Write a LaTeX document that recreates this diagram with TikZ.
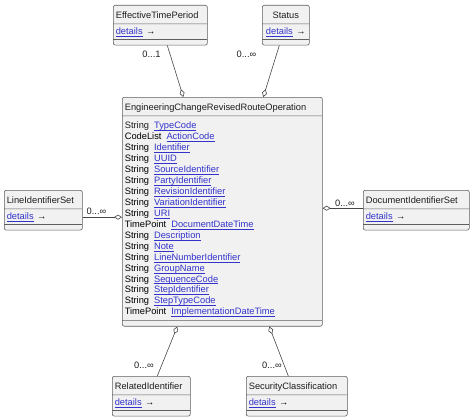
\documentclass[tikz,border=0pt]{standalone}
\usepackage{fontspec}
\setmainfont{Liberation Sans}
\usetikzlibrary{shapes.multipart,arrows.meta,calc}

\definecolor{boxfill}{RGB}{241,241,241}
\definecolor{boxline}{RGB}{95,95,95}
\definecolor{wireline}{RGB}{70,70,70}
\definecolor{linkblue}{RGB}{51,51,204}
\definecolor{typegray}{RGB}{30,30,30}

\newcommand\umlfont{\fontsize{9.3}{10.95}\selectfont}
\newcommand\lnk[1]{{\color{linkblue}\setbox0\hbox{#1}\rlap{\rule[-1.8pt]{\wd0}{0.35pt}}\box0}}
\newcommand\attr[2]{#1\hspace{5pt}\lnk{#2}}
\newcommand\titlestrut{\rule[-3.5pt]{0pt}{14pt}}
\newcommand\detailstrut{\rule[-3pt]{0pt}{11pt}}
\newcommand\detailslink{\detailstrut\lnk{details}\hspace{3.5pt}→}
\newcommand\emptystrut{\rule{0pt}{1pt}}

\tikzset{
  umlclass/.style={rectangle split, rectangle split parts=3, draw=boxline, fill=boxfill,
    line width=0.6pt, rounded corners=2pt, inner xsep=2.5pt, inner ysep=2pt,
    align=left, font=\umlfont, text=typegray, anchor=north west},
  agg/.style={draw=wireline, line width=0.6pt, -{Diamond[open,length=8pt,width=5pt]}},
  mult/.style={font=\umlfont, text=typegray, inner sep=0pt}
}

\begin{document}
\begin{tikzpicture}[x=1pt,y=-1pt]
\useasboundingbox (0,0) rectangle (474,420);

% the class and its attributes
\node[umlclass, text width=195pt] (main) at (122,97) {\titlestrut EngineeringChangeRevisedRouteOperation
  \nodepart{two}\rule{0pt}{10.5pt}\attr{String}{TypeCode}\\
  \attr{CodeList}{ActionCode}\\
  \attr{String}{Identifier}\\
  \attr{String}{UUID}\\
  \attr{String}{SourceIdentifier}\\
  \attr{String}{PartyIdentifier}\\
  \attr{String}{RevisionIdentifier}\\
  \attr{String}{VariationIdentifier}\\
  \attr{String}{URI}\\
  \attr{TimePoint}{DocumentDateTime}\\
  \attr{String}{Description}\\
  \attr{String}{Note}\\
  \attr{String}{LineNumberIdentifier}\\
  \attr{String}{GroupName}\\
  \attr{String}{SequenceCode}\\
  \attr{String}{StepIdentifier}\\
  \attr{String}{StepTypeCode}\\
  \attr{TimePoint}{ImplementationDateTime}\rule[-3.5pt]{0pt}{3.5pt}
  \nodepart{three}\emptystrut};

% associated classes
\node[umlclass, text width=89pt] (period) at (113,5) {\titlestrut EffectiveTimePeriod
  \nodepart{two}\detailslink \nodepart{three}\emptystrut};
\node[umlclass, text width=42pt, align=center] (status) at (262,5) {\titlestrut Status
  \nodepart{two}\detailslink \nodepart{three}\emptystrut};
\node[umlclass, text width=73pt] (lineset) at (4,190) {\titlestrut LineIdentifierSet
  \nodepart{two}\detailslink \nodepart{three}\emptystrut};
\node[umlclass, text width=101pt] (docset) at (363,190) {\titlestrut DocumentIdentifierSet
  \nodepart{two}\detailslink \nodepart{three}\emptystrut};
\node[umlclass, text width=73pt] (related) at (112,376) {\titlestrut RelatedIdentifier
  \nodepart{two}\detailslink \nodepart{three}\emptystrut};
\node[umlclass, text width=96pt] (security) at (246,376) {\titlestrut SecurityClassification
  \nodepart{two}\detailslink \nodepart{three}\emptystrut};

% aggregations
\draw[agg] ($(period.south)+(7,0)$) -- ($(main.north)+(-39,0)$);
\draw[agg] ($(status.south)+(-6.5,0)$) -- ($(main.north)+(41,0)$);
\coordinate (lineport) at ($(lineset.east)+(0,7)$);
\draw[agg] (lineport) -- (lineport -| main.west);
\coordinate (docport) at ($(docset.west)+(0,-2)$);
\draw[agg] (docport) -- (docport -| main.east);
\draw[agg] ($(related.north)+(6,0)$) -- ($(main.south)+(-45,0)$);
\draw[agg] ($(security.north)+(-8.5,0)$) -- ($(main.south)+(47,0)$);

% multiplicities
\node[mult] (m1) at (151.5,54) {0...1};
\node[mult] (m2) at (246.5,54) {0...∞};
\node[mult] (m3) at (96.5,211) {0...∞};
\node[mult] (m4) at (345,203) {0...∞};
\node[mult] (m5) at (144,365) {0...∞};
\node[mult] (m6) at (272,365) {0...∞};
\end{tikzpicture}
\end{document}
